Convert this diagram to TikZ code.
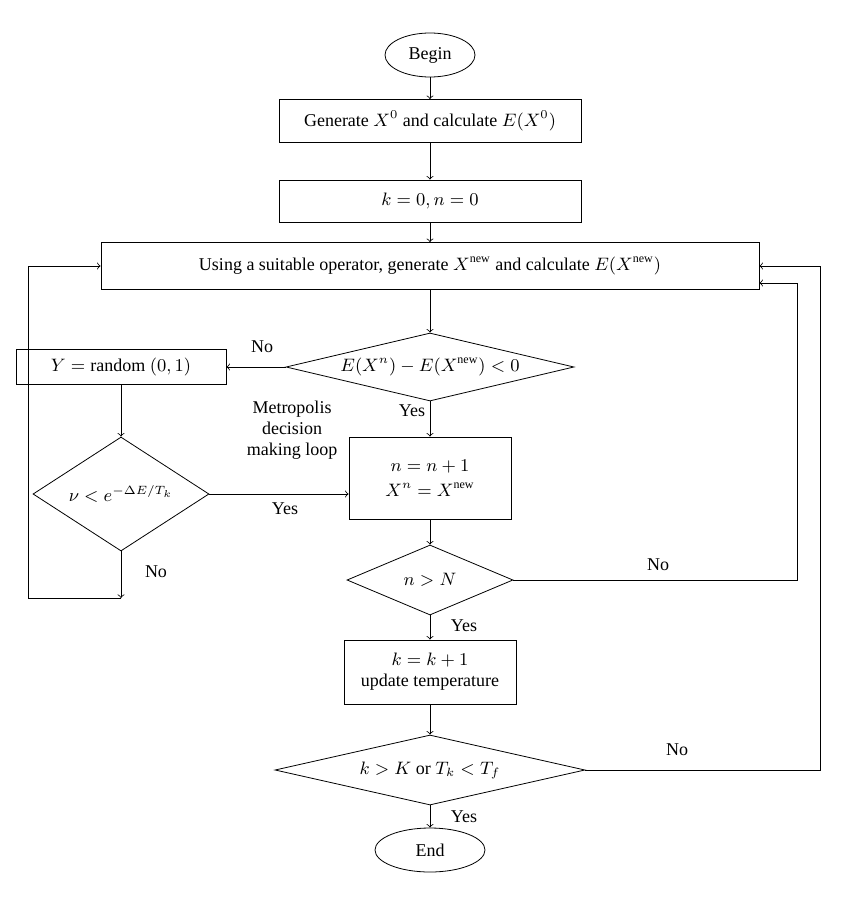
\documentclass[tikz,border=0pt]{standalone}
\usepackage{fontspec}
\setmainfont{Liberation Serif}
\usetikzlibrary{shapes.geometric}
\begin{document}
\begin{tikzpicture}[x = 0.5pt, y = -0.5pt, font = \fontsize{9}{10.5}\selectfont,
		box/.style = {draw, rectangle, inner sep = 0pt},
		term/.style = {draw, ellipse, minimum width = 45pt, minimum height = 22pt},
		dec/.style = {draw, diamond, aspect = 4, inner sep = 1pt},
		arr/.style = {->, >=to}]
					\useasboundingbox (0, 0) rectangle (850, 904);

					\node [term] (begin) at (430, 55) {Begin};
					\node [box, minimum width = 151pt, minimum height = 21.5pt] (gen) at (430, 121) {Generate $X^0$ and calculate $E(X^0)$};
					\node [box, minimum width = 151pt, minimum height = 21pt] (init) at (430, 201) {$k=0,n=0$};
					\node [box, minimum width = 329pt, minimum height = 23.5pt] (oper) at (430, 266) {Using a suitable operator, generate $X^{\mathrm{new}}$ and calculate $E(X^{\mathrm{new}})$};
					\node [dec, minimum width = 144pt, minimum height = 34pt] (cmp) at (430, 367) {$E(X^n)-E(X^{\mathrm{new}})<0$};
					\node [box, minimum width = 105pt, minimum height = 17.5pt] (rand) at (121, 367) {$Y=\mathrm{random}\ (0,1)$};
					\node [dec, aspect = 1.6, minimum width = 88pt, minimum height = 57pt] (metro) at (121, 494) {$\nu<e^{-\Delta E/T_k}$};
					\node [box, minimum width = 81pt, minimum height = 41pt, align = center] (acc) at (430, 478) {$n=n+1$\\[2pt] $X^n=X^{\mathrm{new}}$};
					\node [dec, aspect = 2.4, minimum width = 83pt, minimum height = 35pt] (inner) at (430, 580) {$n>N$};
					\node [box, minimum width = 86pt, minimum height = 32pt, align = center] (cool) at (430, 672) {$k=k+1$\\update temperature};
					\node [dec, minimum width = 155pt, minimum height = 35pt] (outer) at (430, 770) {$k>K$ or $T_k<T_f$};
					\node [term, minimum width = 55pt] (end) at (430, 850) {End};

					\coordinate (l1) at (121, 598);
					\coordinate (l2) at (28, 598);
					\coordinate (l3) at (28, 266);
					\coordinate (r1) at (797, 580);
					\coordinate (r2) at (797, 283);
					\coordinate (r3) at (820, 770);
					\coordinate (r4) at (820, 266);

					\draw [arr] (begin) -- (gen);
					\draw [arr] (gen) -- (init);
					\draw [arr] (init) -- (oper);
					\draw [arr] (oper) -- (cmp);
					\draw [arr] (cmp) -- (rand);
					\draw [arr] (cmp) -- (acc);
					\draw [arr] (rand) -- (metro);
					\draw [arr] (metro.east) -- (acc.west |- metro.east);
					\draw [arr] (metro.south) -- (l1);
					\draw [arr] (l1) -- (l2) -- (l3) -- (oper.west);
					\draw [arr] (acc) -- (inner);
					\draw [arr] (inner) -- (cool);
					\draw [arr] (inner) -- (r1) -- (r2) -- (oper.east |- r2);
					\draw [arr] (cool) -- (outer);
					\draw [arr] (outer) -- (end);
					\draw [arr] (outer) -- (r3) -- (r4) -- (oper.east);

					\node at (262, 347) {No};
					\node at (412, 411) {Yes};
					\node [align = center] at (292, 430) {Metropolis\\decision\\making loop};
					\node at (285, 509) {Yes};
					\node at (156, 572) {No};
					\node at (658, 565) {No};
					\node at (464, 626) {Yes};
					\node at (677, 750) {No};
					\node at (464, 817) {Yes};
				\end{tikzpicture}
\end{document}
